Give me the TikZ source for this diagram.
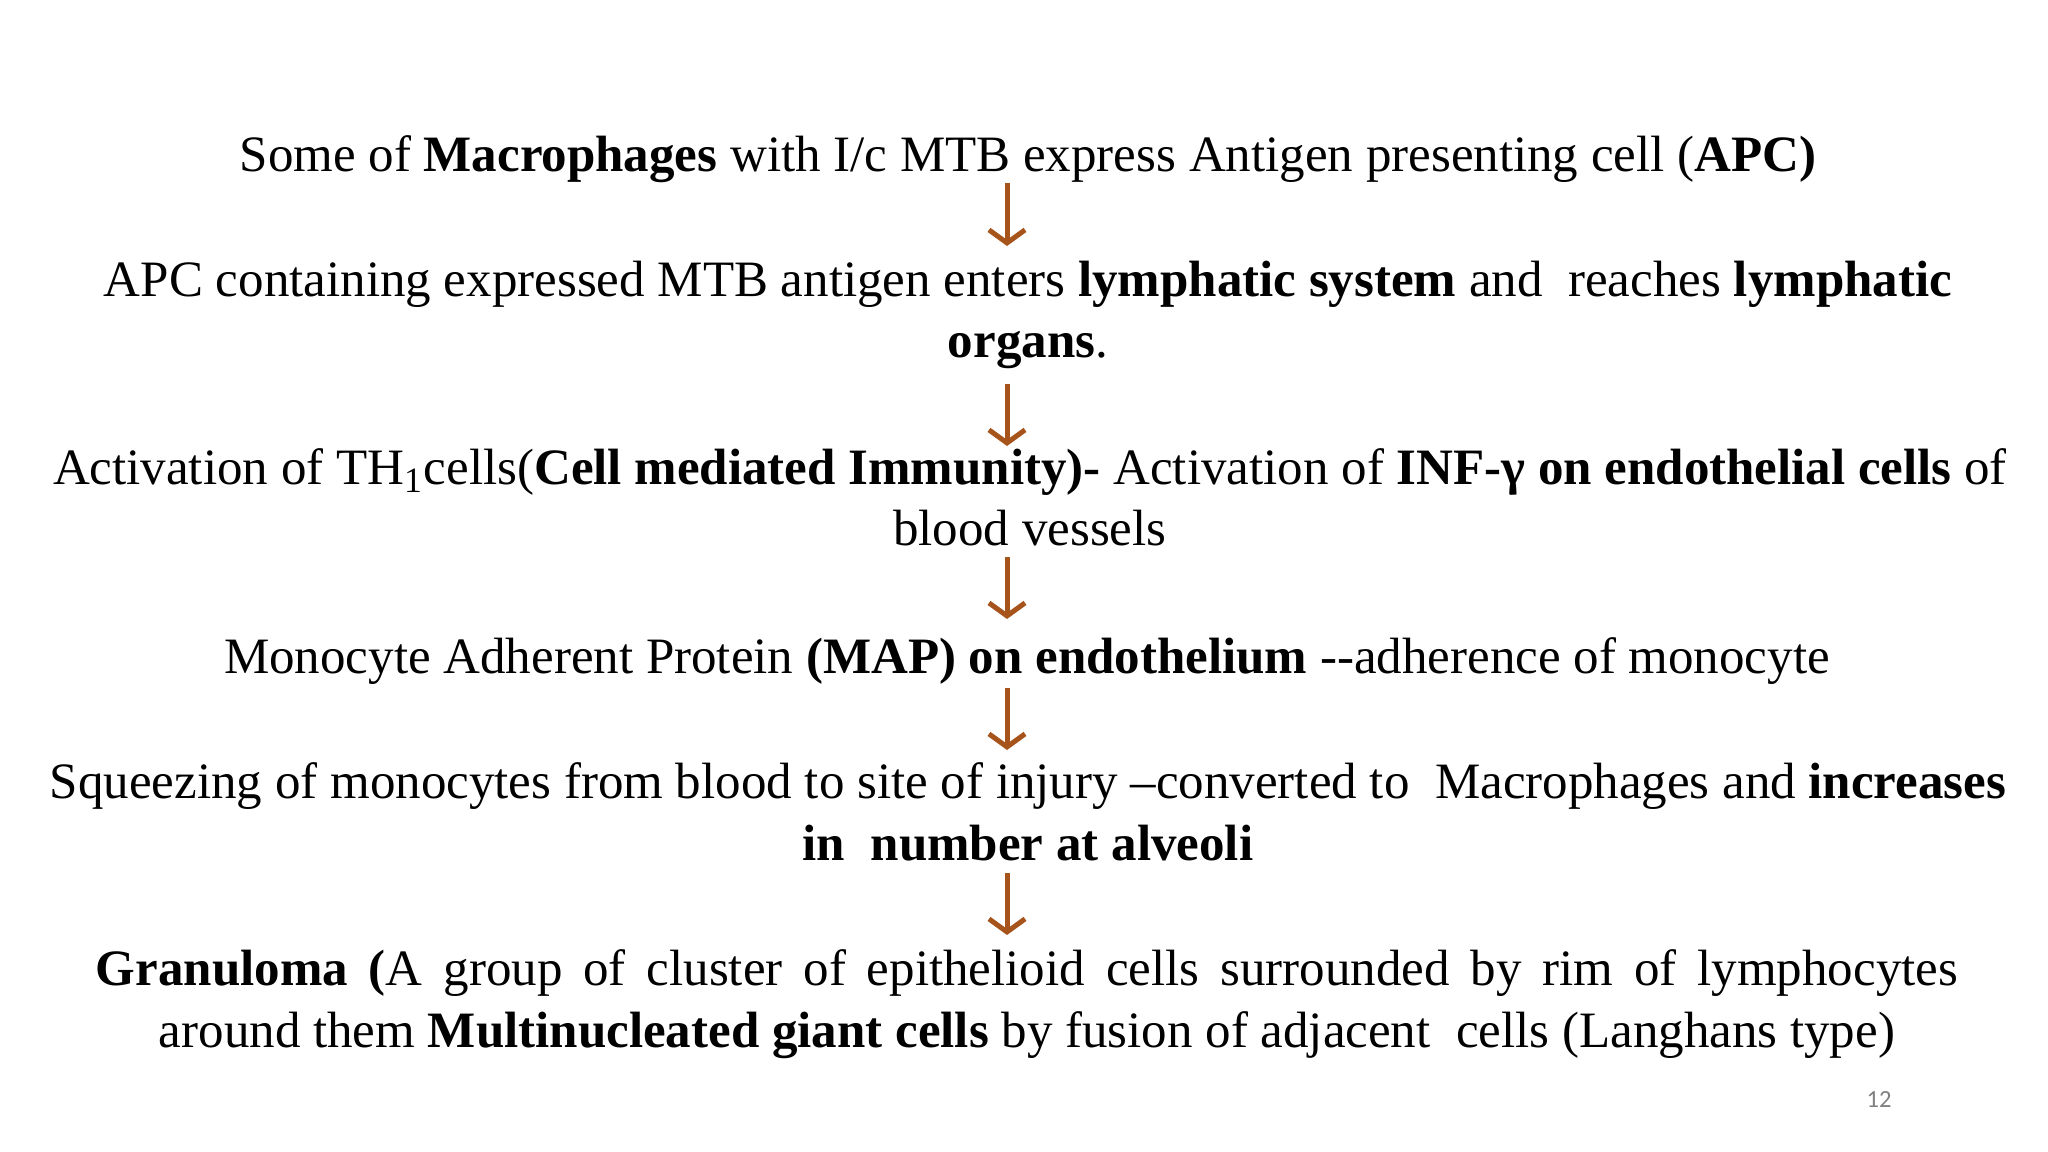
\documentclass[tikz,border=0pt]{standalone}
\usepackage{fontspec}
\setmainfont{Liberation Serif}
\newfontfamily\pgnumfont{Carlito}
\usetikzlibrary{arrows.meta,calc}
\definecolor{arrbrown}{RGB}{166,84,28}
\definecolor{pggray}{RGB}{128,128,128}
\begin{document}
\begin{tikzpicture}[x=0.01cm,y=-0.01cm,
  txt/.style={inner sep=0pt, anchor=base, font=\fontsize{14.5}{17.36}\selectfont, align=center},
  arr/.style={draw=arrbrown, line width=0.05cm, -{Straight Barb[length=0.13cm,width=0.36cm]}}]
\path[use as bounding box, fill=white] (0,0) rectangle (2048,1152);
\coordinate (ax) at (1007,0);
% single-line nodes are placed at their baseline, two-line nodes at the baseline of their last line
\node[txt] (l1) at (1028,172) {Some of \textbf{Macrophages} with I/c MTB express Antigen presenting cell (\textbf{APC)}};
\node[txt] (l2) at (1028,358) {APC containing expressed MTB antigen enters \textbf{lymphatic system} and\ \ reaches \textbf{lymphatic}\\\textbf{organs}.};
\node[txt] (l3) at (1030,546) {Activation of TH\textsubscript{1}cells(\textbf{Cell mediated Immunity)-} Activation of \textbf{INF-γ on endothelial cells} of\\blood vessels};
\node[txt] (l4) at (1027,673) {Monocyte Adherent Protein \textbf{(MAP) on endothelium} -{}-adherence of monocyte};
\node[txt] (l5) at (1028,860) {Squeezing of monocytes from blood to site of injury –converted to\ \ Macrophages and \textbf{increases}\\\textbf{in\ \ number at alveoli}};
\node[txt] (l6) at (1027,1047) {\makebox[18.61cm][s]{\textbf{Granuloma (}A group of cluster of epithelioid cells surrounded by rim of lymphocytes}\\around them \textbf{Multinucleated giant cells} by fusion of adjacent\ \ cells (Langhans type)};
\node[inner sep=0pt, anchor=base, font=\pgnumfont\fontsize{7}{8}\selectfont, text=pggray] (pg) at (1879,1107) {12};
\draw[arr] ($(l1.base -| ax)+(0,11)$) -- ($(l2.base -| ax)+(0,-112)$);
\draw[arr] ($(l2.base -| ax)+(0,26)$) -- ($(l3.base -| ax)+(0,-100)$);
\draw[arr] ($(l3.base -| ax)+(0,11)$) -- ($(l4.base -| ax)+(0,-54)$);
\draw[arr] ($(l4.base -| ax)+(0,15)$) -- ($(l5.base -| ax)+(0,-110)$);
\draw[arr] ($(l5.base -| ax)+(0,13)$) -- ($(l6.base -| ax)+(0,-112)$);
\end{tikzpicture}
\end{document}
